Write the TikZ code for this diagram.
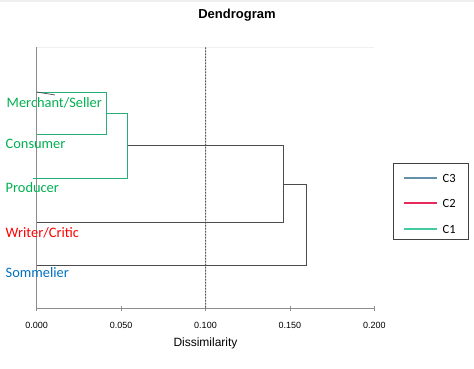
\documentclass[tikz,border=0pt]{standalone}
\usepackage{fontspec}
\setmainfont{Liberation Sans}
\newfontfamily\calib{Carlito}
\definecolor{leafgreen}{RGB}{0,176,80}
\definecolor{leafred}{RGB}{255,0,0}
\definecolor{leafblue}{RGB}{0,112,192}
\definecolor{branchgreen}{RGB}{40,175,120}
\definecolor{legblue}{RGB}{100,145,170}
\definecolor{legred}{RGB}{230,40,90}
\definecolor{leggreen}{RGB}{70,200,160}
\begin{document}
\begin{tikzpicture}[x=1pt,y=-1pt,
  axisline/.style={draw=black!45,line width=1pt},
  tick/.style={draw=black!45,line width=0.7pt},
  ticklabel/.style={font=\fontsize{9}{10}\selectfont},
  leaf/.style={font=\calib\fontsize{14.4}{16}\selectfont,anchor=west,inner sep=0pt},
  blk/.style={draw=black!70,line width=1pt},
  grn/.style={draw=branchgreen,line width=1pt},
  legline/.style={line width=1.4pt},
  legtext/.style={font=\calib\fontsize{12.5}{14}\selectfont,anchor=west,inner sep=0pt}]
\useasboundingbox (0,0) rectangle (474,369);
\fill[black!6] (0,0) rectangle (474,2.5);
% title
\node[font=\bfseries\fontsize{13}{15}\selectfont] (title) at (237,15.5) {Dendrogram};
% axes
\coordinate (o) at (36.7,308.5);
\coordinate (ytop) at (36.7,47.5);
\coordinate (xend) at (374.3,308.5);
\draw[draw=black!6,line width=0.8pt] (ytop) -- (374.3,47.5);
\draw[axisline] (ytop) -- (o) -- (xend);
\foreach \v/\lab in {0/0.000,1/0.050,2/0.100,3/0.150,4/0.200}{
  \coordinate (t\v) at ({36.7+84.4*\v},308.5);
  \draw[tick] ([yshift=3pt]t\v) -- ([yshift=-2.5pt]t\v);
  \node[ticklabel] (tl\v) at ([yshift=-17pt]t\v) {\lab};
}
\node[font=\fontsize{12}{14}\selectfont] (xlab) at (205.5,343) {Dissimilarity};
% dotted cut line
\coordinate (cuttop) at (205.5,47.5);
\draw[draw=black!65,line width=1pt,dash pattern=on 2pt off 1pt] (cuttop) -- (t2);
% leaves
\coordinate (lm) at (36.7,92);
\coordinate (lc) at (36.7,134.3);
\coordinate (lp) at (33,178.3);
\coordinate (lw) at (36.7,222.2);
\coordinate (ls) at (36.7,265.5);
% merges
\coordinate (m1a) at (106,92);
\coordinate (m1b) at (106,134.3);
\coordinate (m1) at (106,113.1);
\coordinate (m2a) at (127.8,113.1);
\coordinate (m2b) at (127.8,178.3);
\coordinate (m2) at (127.8,145.7);
\coordinate (m3a) at (283.8,145.7);
\coordinate (m3b) at (283.8,222.2);
\coordinate (m3) at (283.8,184);
\coordinate (m4a) at (306.7,184);
\coordinate (m4b) at (306.7,265.5);
\draw[grn] (lm) -- (m1a) -- (m1b) -- (lc);
\draw[grn] (m1) -- (m2a) -- (m2b) -- (lp);
\draw[blk] (m2) -- (m3a) -- (m3b) -- (lw);
\draw[blk] (m3) -- (m4a) -- (m4b) -- (ls);
\draw[blk,line width=0.7pt] (lm) -- (55,95);
% labels
\node[leaf,text=leafgreen] (nm) at (6.5,103) {Merchant/Seller};
\node[leaf,text=leafgreen] (nc) at (5.5,143.5) {Consumer};
\node[leaf,text=leafgreen] (np) at (5.5,188) {Producer};
\node[leaf,text=leafred] (nw) at (5.5,233) {Writer/Critic};
\node[leaf,text=leafblue] (ns) at (5.5,272.5) {Sommelier};
% legend
\node[draw=black!75,line width=1pt,minimum width=75.4pt,minimum height=76.7pt,inner sep=0pt] (leg) at (431,201.6) {};
\coordinate (c3a) at (404,178); \coordinate (c3b) at (437,178);
\coordinate (c2a) at (404,203); \coordinate (c2b) at (437,203);
\coordinate (c1a) at (404,229); \coordinate (c1b) at (437,229);
\draw[legline,draw=legblue] (c3a) -- (c3b);
\draw[legline,draw=legred] (c2a) -- (c2b);
\draw[legline,draw=leggreen] (c1a) -- (c1b);
\node[legtext] (l3) at (442.5,178.3) {C3};
\node[legtext] (l2) at (442.5,203.3) {C2};
\node[legtext] (l1) at (442.5,229) {C1};
\end{tikzpicture}
\end{document}
